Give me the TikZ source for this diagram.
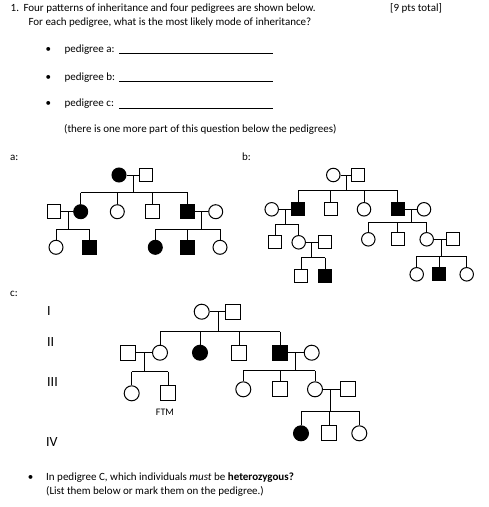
\documentclass[tikz,border=0pt]{standalone}
\usepackage{fontspec}
\setmainfont{Carlito}
\begin{document}
\begin{tikzpicture}[x=1pt,y=-1pt,
  ln/.style={line width=1pt},
  sq/.style={draw,rectangle,minimum size=#1,inner sep=0pt,line width=1pt},
  ci/.style={draw,circle,minimum size=#1,inner sep=0pt,line width=1pt},
  sq/.default=13.5pt, ci/.default=14pt,
  aff/.style={fill=black},
  txt/.style={anchor=base west,inner sep=0pt,font=\fontsize{11}{13}\selectfont},
  rom/.style={anchor=base west,inner sep=0pt,font=\fontsize{14}{16}\selectfont},
  blt/.style={anchor=base,inner sep=0pt,font=\fontsize{11}{13}\selectfont}]
\useasboundingbox (0,0) rectangle (489,507);
\fill[white] (0,0) rectangle (489,507);
% ---------------- header text
\node[txt] (t1) at (10.5,11) {1.};
\node[txt] (t2) at (23.3,11) {Four patterns of inheritance and four pedigrees are shown below.};
\node[txt] (t3) at (390,11) {[9 pts total]};
\node[txt] (t4) at (28.3,25.7) {For each pedigree, what is the most likely mode of inheritance?};
\node[blt] (b1t) at (48.3,52.3) {\textbullet};
\node[blt] (b2t) at (48.3,80) {\textbullet};
\node[blt] (b3t) at (48.3,106.7) {\textbullet};
\node[txt] (pa) at (64.3,52.3) {pedigree a:};
\node[txt] (pb) at (64.3,80) {pedigree b:};
\node[txt] (pc) at (64.3,106.7) {pedigree c:};
\coordinate (ua1) at (119,53); \coordinate (ua2) at (272.7,53);
\coordinate (ub1) at (119,81); \coordinate (ub2) at (272.7,81);
\coordinate (uc1) at (119,108); \coordinate (uc2) at (272.7,108);
\draw[line width=0.8pt] (ua1) -- (ua2);
\draw[line width=0.8pt] (ub1) -- (ub2);
\draw[line width=0.8pt] (uc1) -- (uc2);
\node[txt] (t5) at (64,132.7) {(there is one more part of this question below the pedigrees)};
% ---------------- pedigree a
\node[txt] (la) at (10,160.7) {a:};
\node[ci,aff] (a1) at (119,175) {};
\node[sq] (a2) at (146,175) {};
\node[sq] (a3) at (54,211.7) {};
\node[ci,aff] (a4) at (80.7,211.7) {};
\node[ci] (a5) at (117.3,211.7) {};
\node[sq] (a6) at (152.3,211.7) {};
\node[sq,aff] (a7) at (187.7,211.7) {};
\node[ci] (a8) at (215.7,211.7) {};
\node[ci] (a9) at (56,247.3) {};
\node[sq,aff] (a10) at (89.3,247.3) {};
\node[ci,aff] (a11) at (155.3,247.3) {};
\node[sq,aff] (a12) at (187.7,247.3) {};
\node[ci] (a13) at (220,247.3) {};
\draw[ln] (a1) -- (a2);
\coordinate (ab1) at (133,192.7);
\draw[ln] (ab1 |- a1) -- (ab1);
\draw[ln] (a4 |- ab1) -- (a7 |- ab1);
\foreach \n in {a4,a5,a6,a7} \draw[ln] (\n |- ab1) -- (\n.north);
\draw[ln] (a3) -- (a4);
\coordinate (ab2) at (68.3,229);
\draw[ln] (ab2 |- a3) -- (ab2);
\draw[ln] (a9 |- ab2) -- (a10 |- ab2);
\foreach \n in {a9,a10} \draw[ln] (\n |- ab2) -- (\n.north);
\draw[ln] (a7) -- (a8);
\coordinate (ab3) at (201.7,229);
\draw[ln] (ab3 |- a7) -- (ab3);
\draw[ln] (a11 |- ab3) -- (a13 |- ab3);
\foreach \n in {a11,a12,a13} \draw[ln] (\n |- ab3) -- (\n.north);
% ---------------- pedigree b
\node[txt] (lb) at (242,160.7) {b:};
\node[ci=13.5pt] (b1) at (333.3,175) {};
\node[sq=13pt] (b2) at (358.3,175) {};
\node[ci=13.5pt] (b3) at (271.7,209.3) {};
\node[sq=13pt,aff] (b4) at (298.3,209.3) {};
\node[sq=13pt] (b5) at (330.7,209.3) {};
\node[ci=13.5pt] (b6) at (364,209.3) {};
\node[sq=13pt,aff] (b7) at (397.7,209.3) {};
\node[ci=13.5pt] (b8) at (424,209.3) {};
\node[sq=13pt] (b9) at (275,242.3) {};
\node[ci=13.5pt] (b10) at (298.7,242.3) {};
\node[sq=13pt] (b11) at (325,242.3) {};
\node[sq=13pt] (b12) at (301,276) {};
\node[sq=13pt,aff] (b13) at (325,276) {};
\node[ci=13.5pt] (b14) at (368.3,239.3) {};
\node[sq=13pt] (b15) at (397.7,239.3) {};
\node[ci=13.5pt] (b16) at (426.7,239.3) {};
\node[sq=13pt] (b17) at (453.3,239.3) {};
\node[ci=13.5pt] (b18) at (416.7,274.3) {};
\node[sq=13pt,aff] (b19) at (439.3,274.3) {};
\node[ci=13.5pt] (b20) at (466.7,274.3) {};
\draw[ln] (b1) -- (b2);
\coordinate (bb1) at (346.7,190.7);
\draw[ln] (bb1 |- b1) -- (bb1);
\draw[ln] (b4 |- bb1) -- (b7 |- bb1);
\foreach \n in {b4,b5,b6,b7} \draw[ln] (\n |- bb1) -- (\n.north);
\draw[ln] (b3) -- (b4);
\coordinate (bb2) at (285,224);
\draw[ln] (bb2 |- b3) -- (bb2);
\draw[ln] (b9 |- bb2) -- (b10 |- bb2);
\foreach \n in {b9,b10} \draw[ln] (\n |- bb2) -- (\n.north);
\draw[ln] (b10) -- (b11);
\coordinate (bb3) at (311.7,257.7);
\draw[ln] (bb3 |- b10) -- (bb3);
\draw[ln] (b12 |- bb3) -- (b13 |- bb3);
\foreach \n in {b12,b13} \draw[ln] (\n |- bb3) -- (\n.north);
\draw[ln] (b7) -- (b8);
\coordinate (bb4) at (411,222.7);
\draw[ln] (bb4 |- b7) -- (bb4);
\draw[ln] (b14 |- bb4) -- (b16 |- bb4);
\foreach \n in {b14,b15,b16} \draw[ln] (\n |- bb4) -- (\n.north);
\draw[ln] (b16) -- (b17);
\coordinate (bb5) at (441.7,256);
\draw[ln] (bb5 |- b16) -- (bb5);
\draw[ln] (b18 |- bb5) -- (b20 |- bb5);
\foreach \n in {b18,b19,b20} \draw[ln] (\n |- bb5) -- (\n.north);
% ---------------- pedigree c
\node[txt] (lc) at (10,296.7) {c:};
\node[rom] (r1) at (47,315) {I};
\node[rom] (r2) at (47,346.7) {II};
\node[rom] (r3) at (47,386.7) {III};
\node[rom] (r4) at (46,446.7) {IV};
\node[ci=15pt] (c1) at (201.7,311.7) {};
\node[sq=15pt] (c2) at (232.7,311.7) {};
\node[sq=15pt] (c3) at (128.3,352.7) {};
\node[ci=15pt] (c4) at (160,352.7) {};
\node[ci=15pt,aff] (c5) at (200,352.7) {};
\node[sq=15pt] (c6) at (239.3,352.7) {};
\node[sq=15pt,aff] (c7) at (280,352.7) {};
\node[ci=15pt] (c8) at (311.7,352.7) {};
\node[ci=15pt] (c9) at (131.7,393.3) {};
\node[sq=15pt] (c10) at (168.3,393.3) {};
\node[anchor=base,inner sep=0pt,font=\fontsize{10}{12}\selectfont] (ftm) at (165,415.7) {FTM};
\node[ci=15pt] (c11) at (243.3,389.3) {};
\node[sq=15pt] (c12) at (280,389.3) {};
\node[ci=15pt] (c13) at (315,389.3) {};
\node[sq=15pt] (c14) at (347.7,389.3) {};
\node[ci=15pt,aff] (c15) at (301,433.3) {};
\node[sq=15pt] (c16) at (329,433.3) {};
\node[ci=15pt] (c17) at (359.3,433.3) {};
\draw[ln] (c1) -- (c2);
\coordinate (cb1) at (218.3,331.7);
\draw[ln] (cb1 |- c1) -- (cb1);
\draw[ln] (c4 |- cb1) -- (c7 |- cb1);
\foreach \n in {c4,c5,c6,c7} \draw[ln] (\n |- cb1) -- (\n.north);
\draw[ln] (c3) -- (c4);
\coordinate (cb2) at (144.3,371.7);
\draw[ln] (cb2 |- c3) -- (cb2);
\draw[ln] (c9 |- cb2) -- (c10 |- cb2);
\foreach \n in {c9,c10} \draw[ln] (\n |- cb2) -- (\n.north);
\draw[ln] (c7) -- (c8);
\coordinate (cb3) at (295.7,370.7);
\draw[ln] (cb3 |- c7) -- (cb3);
\draw[ln] (c11 |- cb3) -- (c13 |- cb3);
\foreach \n in {c11,c12,c13} \draw[ln] (\n |- cb3) -- (\n.north);
\draw[ln] (c13) -- (c14);
\coordinate (cb4) at (330.5,411);
\draw[ln] (cb4 |- c13) -- (cb4);
\draw[ln] (c15 |- cb4) -- (c17 |- cb4);
\foreach \n in {c15,c16,c17} \draw[ln] (\n |- cb4) -- (\n.north);
% ---------------- bottom text
\node[blt] (b4t) at (30.7,480) {\textbullet};
\node[txt] (t6) at (46,480) {In pedigree C, which individuals \textit{must} be \textbf{heterozygous?}};
\node[txt] (t7) at (46,494) {(List them below or mark them on the pedigree.)};
\end{tikzpicture}
\end{document}
